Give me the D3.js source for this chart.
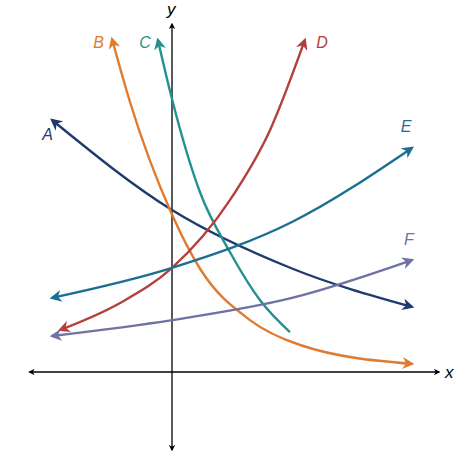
<!DOCTYPE html>
<html><head><meta charset="utf-8">
<script src="https://cdn.jsdelivr.net/npm/d3@7"></script>
<style>body{margin:0;background:#fff}svg{display:block}</style>
</head><body><svg width="474" height="457"></svg>
<script>
// points, in graph units
let curveA = [[-4,8.4],[0,5.4],[4,3.45],[8,2.17]]
let curveB = [[-2,11.1],[-1.4,9.0],[0,5.25],[0.93,3.45],[2.6,1.73],[4.27,0.9],[8,0.27]]
let curveC = [[-0.47,11.07],[0,9.1],[0.93,6.0],[1.93,4.0],[2.93,2.4],[3.93,1.33]]
let curveD = [[-3.73,1.4],[-1.73,2.3],[0,3.47],[1.93,5.73],[3.27,8.07],[4.43,11.07]]
let curveE = [[-4,2.47],[0,3.47],[4,5.0],[8,7.47]]
let curveF = [[-4,1.2],[0,1.73],[4,2.47],[8,3.73]]
let names = ['A','B','C','D','E','F']
let colors = ['#1f3b6e','#e07a30','#23918f','#b4403a','#1b6f90','#6f73a3']
let labelPos = [[-4.15,7.75],[-2.45,10.8],[-0.9,10.8],[5,10.8],[7.8,8.0],[7.9,4.25]]

let svg = d3.select('svg')
let x = d3.scaleLinear().domain([0,1]).range([172,202])
let y = d3.scaleLinear().domain([0,1]).range([372,342])

let defs = svg.append('defs')
function marker(id, color) {
	defs.append('marker').attr('id', id).attr('viewBox','0 0 10 10')
		.attr('refX',8).attr('refY',5).attr('markerWidth',5).attr('markerHeight',5)
		.attr('markerUnits','strokeWidth').attr('orient','auto-start-reverse')
		.append('path').attr('d','M0,0 L10,5 L0,10 L3,5 Z').attr('fill', color)
}
marker('m-axis', '#000')
colors.forEach((c, i) => marker('m' + i, c))

// axes
svg.append('line').attr('x1',x(-4.75)).attr('x2',x(8.9)).attr('y1',y(0)).attr('y2',y(0))
	.attr('stroke','#000').attr('stroke-width',1.3)
	.attr('marker-start','url(#m-axis)').attr('marker-end','url(#m-axis)')
svg.append('line').attr('x1',x(0)).attr('x2',x(0)).attr('y1',y(11.6)).attr('y2',y(-2.6))
	.attr('stroke','#000').attr('stroke-width',1.3)
	.attr('marker-start','url(#m-axis)').attr('marker-end','url(#m-axis)')
svg.append('text').attr('x',x(9.1)).attr('y',y(0)+6).text('x')
	.attr('font-family','Liberation Sans, Arial').attr('font-style','italic').attr('font-size',17)
svg.append('text').attr('x',x(0)-5).attr('y',15).text('y')
	.attr('font-family','Liberation Sans, Arial').attr('font-style','italic').attr('font-size',17)

let line = d3.line().x(d => x(d[0])).y(d => y(d[1])).curve(d3.curveMonotoneX)
let curves = [curveA, curveB, curveC, curveD, curveE, curveF]
curves.forEach((pts, i) => {
	svg.append('path').attr('d', line(pts)).attr('fill','none')
		.attr('stroke', colors[i]).attr('stroke-width', 2.4)
		.attr('marker-start', 'url(#m' + i + ')')
		.attr('marker-end', i == 2 ? null : 'url(#m' + i + ')')
	svg.append('text').attr('x', x(labelPos[i][0])).attr('y', y(labelPos[i][1]))
		.text(names[i]).attr('fill', colors[i]).attr('text-anchor','middle')
		.attr('font-family','Liberation Sans, Arial').attr('font-style','italic').attr('font-size',16)
})
</script></body></html>
